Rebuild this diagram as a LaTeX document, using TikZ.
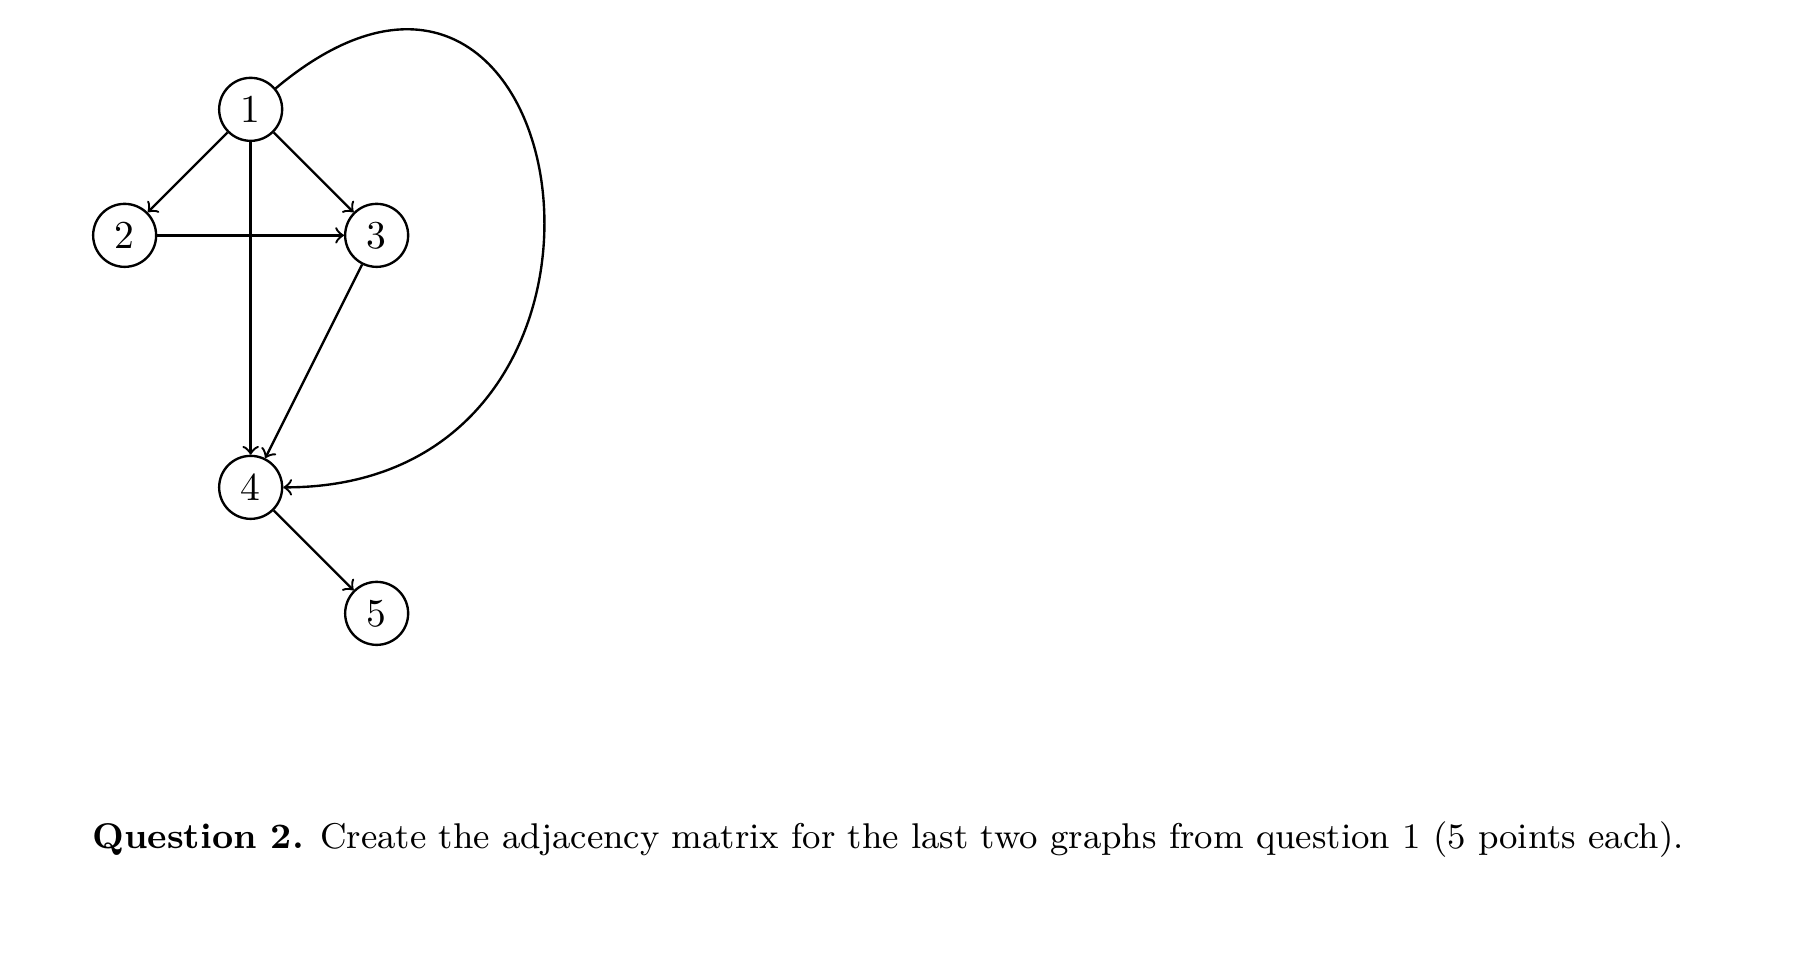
\documentclass[tikz,border=0pt]{standalone}
\usetikzlibrary{arrows,positioning}
\tikzstyle{vertex} = [circle, minimum size=0.56cm, inner sep=0pt, draw=black, line width=0.6pt]
\tikzstyle{arrow} = [line width=0.6pt,->]

\begin{document}
\begin{tikzpicture}[node distance=1.584cm]
            \useasboundingbox (-2.228,0.972) rectangle (13.754,-7.633);
            \node (n1) [vertex] at (0,0) {1};
            \node (n2) [vertex, below left of=n1] {2};
            \node (n3) [vertex, below right of=n1] {3};
            \node (n4) [vertex, below of=n1, node distance=3.36cm] {4};
            \node (n5) [vertex, below right of=n4] {5};
            \node (q2) [anchor=base west, inner sep=0pt, font=\fontsize{9.05}{11}\selectfont] at (-1.413,-6.566) {\textbf{Question 2.} Create the adjacency matrix for the last two graphs from question 1 (5 points each).};

            \draw [arrow] (n1) -- (n2);
            \draw [arrow] (n1) -- (n3);
            \draw [arrow] (n1) -- (n4);
            \draw [arrow] (n2) -- (n3);
            \draw [arrow] (n3) -- (n4);
            \draw [arrow] (n4) -- (n5);
            \draw [arrow] (n1.40) .. controls +(40:3.53) and +(0:3.53) .. (n4.east);
        \end{tikzpicture}
\end{document}
